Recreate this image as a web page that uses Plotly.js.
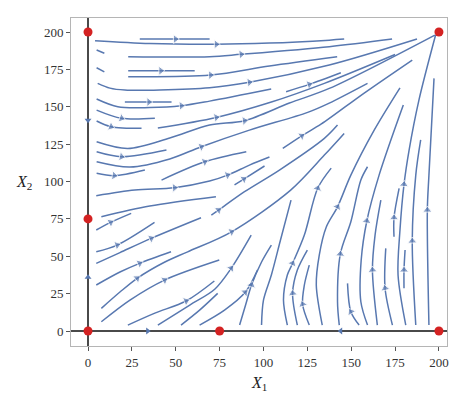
<!DOCTYPE html>
<html><head><meta charset="utf-8">
<script src="https://cdn.plot.ly/plotly-3.0.1.min.js"></script>
<style>html,body{margin:0;padding:0;background:#fff}#chart{width:474px;height:407px}</style>
</head><body><div id="chart"></div>
<script>
// Streamlines (data units, X1 / X2), each in flow direction
const streamX = [
  [4.0,35.2,73.1,103.4,137.5,146.0],
  [29.5,49.8,69.3],
  [4.9,9.3],
  [22.9,69.3,87.3,137.5,173.3],
  [22.9,41.5,60.8],
  [4.9,9.3],
  [22.9,69.9,103.4,142.0],
  [5.5,12.5,21.0,40.9,69.3,92.0,137.5,187.5],
  [21.0,34.7,47.6],
  [4.9,17.0,35.2,53.2,69.3,104.4],
  [112.9,126.1,144.1],
  [4.9,19.1,38.1],
  [4.9,13.1,30.5],
  [39.8,73.1,104.5,134.7,175.0],
  [4.9,22.7,46.6,69.3,89.2,114.8,137.5,197.7],
  [4.9,19.1,44.7],
  [4.9,23.9,46.6,64.6,92.0,125.2,137.5,159.3],
  [4.9,14.9,32.4],
  [41.9,66.5,90.2],
  [111.0,121.8,133.0,157.4,184.8],
  [4.7,26.7,49.3,69.3,79.5,92.0,103.4],
  [7.6,35.2,72.9],
  [4.7,12.9,24.6],
  [4.7,16.6,37.9],
  [4.7,18.2,36.0,64.4],
  [70.3,74.4,89.2,109.1,134.7,142.2],
  [83.5,88.8,100.6],
  [4.7,18.2,29.4,47.3],
  [7.6,18.2,28.0,43.8,56.8,81.8,115.5,134.7,146.0],
  [7.6,23.9,43.6,74.8],
  [22.7,38.1,55.9,72.0],
  [39.8,58.0,72.2,81.6,93.0],
  [53.0,63.6,73.9],
  [63.6,77.8,89.6,96.6],
  [86.4,89.8,93.2,98.9,104.5],
  [98.9,100.0,104.5,109.7,115.7],
  [113.6,111.4,113.6,116.6,123.3,130.9,138.6],
  [119.3,116.6,119.3,125.0],
  [126.1,122.3,123.3,126.1],
  [133.5,130.1,131.8,135.8,142.2,149.8,163.1,177.8],
  [143.2,142.2,143.8,149.8,155.5,159.3],
  [154.5,149.8,147.9],
  [159.3,155.5,155.7,158.9,165.9,179.7],
  [164.9,162.1,163.6,166.9],
  [173.5,169.3,169.7],
  [174.4,174.4,177.3],
  [181.1,176.7,177.8,180.1,183.0,188.6,198.1],
  [180.1,180.1,180.7],
  [186.8,184.8,186.8,189.6],
  [194.3,193.4,194.3,197.2]
];
const streamY = [
  [194.2,192.3,191.8,192.6,194.6,195.3],
  [195.3,195.3,195.3],
  [188.0,185.8],
  [183.5,183.5,185.1,190.2,195.3],
  [174.1,174.1,174.1],
  [176.1,173.4],
  [170.1,171.2,177.3,183.5],
  [165.7,162.5,161.2,161.2,162.7,166.4,177.9,195.3],
  [153.2,153.2,153.2],
  [155.2,150.0,149.5,150.7,153.8,161.9],
  [160.1,165.0,172.8],
  [147.8,142.3,142.3],
  [140.5,136.7,135.6],
  [135.8,142.9,153.2,165.7,185.0],
  [126.6,122.1,129.1,137.8,140.7,152.5,162.3,198.0],
  [119.9,116.6,121.1],
  [113.2,109.7,115.1,123.3,134.4,146.3,152.5,165.7],
  [105.5,103.9,107.7],
  [101.0,113.2,119.9],
  [122.2,130.6,138.5,159.2,181.3],
  [90.5,94.3,95.9,100.3,104.3,111.0,116.4],
  [76.5,83.6,89.8],
  [67.6,72.7,78.7],
  [53.0,57.5,72.7],
  [45.3,52.5,62.0,75.8],
  [77.6,80.9,93.2,107.7,128.9,137.8],
  [97.7,101.7,110.4],
  [30.8,39.5,45.3,53.0],
  [15.2,26.1,35.3,46.2,53.0,66.4,94.3,117.7,132.2],
  [6.2,20.7,34.1,47.5],
  [4.0,12.0,20.1,33.5],
  [4.0,17.4,28.0,42.0,64.2],
  [4.0,14.0,25.2],
  [4.0,14.0,25.9,40.8],
  [4.0,17.4,30.8,46.2,57.5],
  [4.0,20.7,37.5,60.9,87.6],
  [4.0,20.7,37.5,45.3,64.2,95.5,109.0],
  [4.0,25.2,40.8,54.2],
  [4.0,17.9,30.8,44.1],
  [4.0,30.8,50.8,69.6,83.1,104.3,134.4,162.7],
  [4.0,19.6,51.5,73.1,101.0,109.9],
  [4.0,12.9,31.9],
  [4.0,19.6,47.5,73.6,104.3,151.2],
  [4.0,40.8,64.2,87.6],
  [4.0,28.6,55.3],
  [63.1,75.8,95.5],
  [4.0,37.5,67.6,98.1,121.1,154.5,198.0],
  [28.6,40.8,54.2],
  [4.0,60.2,104.3,127.8],
  [4.0,80.9,104.3,169.0]
];
// index of the vertex carrying a direction arrow on each streamline
const arrowAt = [
  [2],[1],[],[2],[1],[],[1],[5],[1],[3],[1],[1],[1],[1],[4],[1],[3],[1],[1],[1],
  [2,4],[],[1],[1],[2],[1],[1],[2],[2,5],[2],[2],[3],[],[2],[2],[],[3,5],[1],[1],[4],
  [2],[1],[3],[1],[1],[1],[3],[1],[1],[1]
];
const equilibriaX = [0, 0, 0, 75, 200, 200];
const equilibriaY = [0, 75, 200, 0, 0, 200];
const axisArrowX = [0, 0, 34, 144];
const axisArrowY = [141, 36, 0, 0];
const axisArrowSymbol = ['triangle-down', 'triangle-up', 'triangle-right', 'triangle-left'];
const tickVals = [0, 25, 50, 75, 100, 125, 150, 175, 200];
const tickText = ['0', '25', '50', '75', '100', '125', '150', '175', '200'];

const streamColor = '#5878b0';
const traces = [];
streamX.forEach((xs, i) => {
  const sizes = xs.map((_, j) => (arrowAt[i].includes(j) ? 8 : 0));
  traces.push({
    type: 'scatter', mode: 'lines+markers', x: xs, y: streamY[i],
    line: { color: streamColor, width: 1.5, shape: 'spline', smoothing: 0.9 },
    marker: { size: sizes, symbol: 'triangle-up', angleref: 'previous', color: streamColor },
    hoverinfo: 'skip', showlegend: false, cliponaxis: true
  });
});
traces.push({
  type: 'scatter', mode: 'markers', x: axisArrowX, y: axisArrowY,
  marker: { size: 6, symbol: axisArrowSymbol, color: streamColor },
  hoverinfo: 'skip', showlegend: false, cliponaxis: false
});
traces.push({
  type: 'scatter', mode: 'markers', x: equilibriaX, y: equilibriaY,
  marker: { size: 9, color: '#d42222' },
  hoverinfo: 'skip', showlegend: false, cliponaxis: false
});

const tickFont = { family: 'Liberation Serif, DejaVu Serif, serif', size: 13, color: '#333' };
const axisCommon = {
  tickmode: 'array', tickvals: tickVals, ticktext: tickText,
  ticks: 'outside', ticklen: 4, tickcolor: '#555', tickwidth: 1,
  showgrid: false, showline: true, mirror: true, linecolor: '#b5b5b5', linewidth: 1,
  zeroline: true, zerolinecolor: '#4a4a4a', zerolinewidth: 1.6,
  tickfont: tickFont, fixedrange: true
};
const layout = {
  width: 474, height: 407,
  margin: { l: 71, r: 27, t: 18, b: 61 },
  paper_bgcolor: '#fff', plot_bgcolor: '#fff',
  xaxis: Object.assign({}, axisCommon, { range: [-9.7, 204.6] }),
  yaxis: Object.assign({}, axisCommon, { range: [-10, 209.4] }),
  annotations: [
    { text: '<i>X</i><sub>1</sub>', xref: 'paper', yref: 'paper', x: 0.5, y: -0.115,
      xanchor: 'center', yanchor: 'middle', showarrow: false,
      font: { family: 'Liberation Serif, DejaVu Serif, serif', size: 16, color: '#222' } },
    { text: '<i>X</i><sub>2</sub>', xref: 'paper', yref: 'paper', x: -0.125, y: 0.5,
      xanchor: 'center', yanchor: 'middle', showarrow: false,
      font: { family: 'Liberation Serif, DejaVu Serif, serif', size: 16, color: '#222' } }
  ]
};
Plotly.newPlot('chart', traces, layout, { displayModeBar: false, staticPlot: true });
</script>
</body></html>
